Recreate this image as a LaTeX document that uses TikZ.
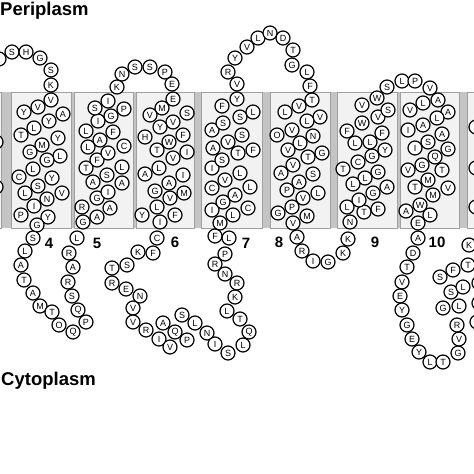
\documentclass[tikz,border=0pt]{standalone}
\usepackage{fontspec}
\setmainfont{Liberation Sans}
\usepackage{tikz}

\definecolor{gapgray}{HTML}{C4C4C4}
\definecolor{boxgray}{HTML}{F2F2F2}
\definecolor{edgegray}{HTML}{A0A0A0}

\tikzset{
  res/.style = {circle, draw, line width = 1.2pt, fill = white, minimum size = 14pt,
                inner sep = 0pt, font = \fontsize{9}{9}\selectfont},
  tmbox/.style = {fill = boxgray, draw = edgegray, line width = 1pt},
  tmnum/.style = {font = \fontsize{15}{15}\selectfont\bfseries},
  side/.style = {font = \fontsize{18.5}{18.5}\selectfont\bfseries, anchor = base west, inner sep = 0pt}
}

\begin{document}
\begin{tikzpicture}[x = 1pt, y = -1pt]
        \useasboundingbox (0,0) rectangle (474,474);
        \clip (0,0) rectangle (474,474);

        % membrane
        \fill [gapgray] (-10,92) rectangle (484,228);
        \draw [tmbox] (-60,92) rectangle (1,228);
        \draw [tmbox] (11,92) rectangle (71,228);
        \draw [tmbox] (74,92) rectangle (133,228);
        \draw [tmbox] (136,92) rectangle (194,228);
        \draw [tmbox] (201,92) rectangle (262,228);
        \draw [tmbox] (270,92) rectangle (330,228);
        \draw [tmbox] (337,92) rectangle (397,228);
        \draw [tmbox] (400,92) rectangle (459,228);
        \draw [tmbox] (467,92) rectangle (540,228);

        \node [side] (peri) at (0,15) {Periplasm};
        \node [side] (cyto) at (1,385) {Cytoplasm};

        % helix numbers
        \node [tmnum] (n4) at (49,243) {4};
        \node [tmnum] (n5) at (97,243) {5};
        \node [tmnum] (n6) at (175,242) {6};
        \node [tmnum] (n7) at (246,243) {7};
        \node [tmnum] (n8) at (279,242) {8};
        \node [tmnum] (n9) at (375,242) {9};
        \node [tmnum] (n10) at (437,242) {10};

        % helix 3 (cut at the left edge)
        \foreach \x/\y/\a [count = \i] in {-4/142/{}, -4/187/{}, -1/59/{}}
            \node [res] (hthree\i) at (\x,\y) {\a};

        % loop 3-4 and helix 4
        \foreach \x/\y/\a [count = \i] in {12/52/S, 26/52/H, 40/58/G, 51/70/S, 51/85/K, 51/100/V,
            38/107/V, 24/112/Y, 49/121/Y, 63/114/A, 34/128/L, 21/135/T, 58/138/Y, 42/145/M,
            30/152/G, 60/156/L, 47/160/G, 33/169/L, 19/177/C, 52/178/Y, 38/186/S, 25/193/L,
            62/193/V, 47/199/N, 34/206/I, 21/215/P, 48/217/Y, 37/225/G}
            \node [res] (hfour\i) at (\x,\y) {\a};

        % loop 4-5
        \foreach \x/\y/\a [count = \i] in {33/238/S, 25/251/L, 21/265/A, 24/280/T, 33/293/A,
            40/306/M, 52/312/T, 59/325/O, 73/332/Q, 86/322/P, 78/310/Q, 72/296/S, 68/282/R,
            73/267/A, 69/253/R, 77/238/L}
            \node [res] (cfour\i) at (\x,\y) {\a};

        % helix 5 and loop 5-6
        \foreach \x/\y/\a [count = \i] in {83/222/G, 97/217/A, 110/208/A, 82/207/R, 97/198/G,
            108/192/I, 122/183/A, 93/182/A, 107/175/S, 86/168/T, 122/167/L, 97/160/F,
            108/153/V, 88/147/L, 124/146/C, 100/140/A, 113/132/F, 86/131/L, 98/121/I,
            111/116/G, 124/109/P, 95/108/S, 108/101/I, 117/87/K,
            122/74/N, 135/67/S, 150/67/S, 165/72/P, 172/84/E, 173/99/E}
            \node [res] (hfive\i) at (\x,\y) {\a};

        % helix 6
        \foreach \x/\y/\a [count = \i] in {162/108/M, 150/115/V, 187/113/S, 173/122/V,
            160/127/Y, 183/135/F, 145/137/H, 169/142/W, 157/150/T, 187/152/I, 173/158/V,
            159/168/L, 145/174/A, 183/175/I, 169/183/A, 155/191/G, 184/193/M, 170/198/V,
            157/207/L, 175/215/F, 142/215/Y, 160/222/I, 157/238/C, 153/253/F, 138/252/K}
            \node [res] (hsix\i) at (\x,\y) {\a};

        % loop 6-7
        \foreach \x/\y/\a [count = \i] in {127/265/S, 112/268/T, 112/283/R, 126/289/E,
            140/296/N, 133/308/V, 133/322/V, 146/330/R, 159/339/I, 170/347/V, 187/340/P,
            175/332/Q, 163/323/A, 182/315/S, 195/323/L, 207/333/N, 215/344/I, 228/353/S,
            243/345/L, 249/332/Q, 240/319/T, 227/311/L, 235/297/K, 237/283/R, 225/274/N,
            215/264/R, 225/254/P, 229/238/L, 215/236/F}
            \node [res] (csix\i) at (\x,\y) {\a};

        % helix 7 and loop 7-8
        \foreach \x/\y/\a [count = \i] in {220/223/M, 233/215/L, 248/208/C, 212/210/I,
            223/202/G, 235/195/A, 250/187/L, 212/188/C, 225/180/V, 240/173/L, 212/168/I,
            222/160/S, 238/153/T, 253/150/F, 213/148/A, 228/142/V, 242/135/S, 212/130/A,
            223/123/S, 240/117/S, 253/112/L, 222/106/F, 237/99/Y,
            237/84/V, 228/72/R, 235/58/Y, 247/47/V, 258/38/L, 270/33/N, 283/38/D,
            293/50/T, 292/65/G, 307/72/L, 310/86/F, 312/100/T}
            \node [res] (hseven\i) at (\x,\y) {\a};

        % helix 8 and loop 8-9
        \foreach \x/\y/\a [count = \i] in {299/106/V, 285/112/L, 320/117/V, 307/121/L,
            292/130/V, 277/135/O, 313/136/N, 300/143/L, 288/150/V, 322/153/G, 308/157/T,
            293/165/V, 281/173/A, 313/174/S, 299/182/A, 287/190/P, 318/193/L, 303/198/V,
            292/207/P, 278/213/G, 307/216/M, 293/223/V,
            297/237/A, 302/251/R, 313/261/I, 328/262/G, 343/253/K, 348/239/K}
            \node [res] (height\i) at (\x,\y) {\a};

        % helix 9 and loop 9-10
        \foreach \x/\y/\a [count = \i] in {350/222/N, 364/212/T, 378/209/F, 347/207/L,
            359/200/I, 373/193/G, 387/187/A, 365/178/L, 353/184/L, 378/172/G, 343/169/T,
            358/162/C, 372/156/G, 385/150/Y, 370/142/L, 355/143/L, 382/133/F, 347/131/F,
            362/123/W, 378/117/V, 388/110/S, 362/105/V, 377/98/W, 387/87/S,
            402/81/L, 415/81/P, 430/88/V}
            \node [res] (hnine\i) at (\x,\y) {\a};

        % helix 10
        \foreach \x/\y/\a [count = \i] in {438/100/A, 423/103/L, 410/110/V, 448/112/A,
            437/118/L, 423/125/A, 408/130/I, 442/134/A, 428/142/S, 415/148/I, 448/149/G,
            435/157/Q, 422/165/G, 408/170/V, 442/170/T, 428/180/M, 415/187/T, 448/188/V,
            433/195/M, 420/205/W, 406/211/A, 430/215/L, 418/223/E}
            \node [res] (hten\i) at (\x,\y) {\a};

        % loop 10-11 and helix 11 (cut at the right edge)
        \foreach \x/\y/\a [count = \i] in {418/238/A, 413/253/D, 407/267/T, 402/282/V,
            400/296/E, 402/310/Y, 407/325/G, 412/339/E, 419/352/Y, 430/362/L, 443/362/T,
            458/353/G, 459/339/V, 457/325/R, 443/308/G, 459/306/L, 451/292/S, 463/287/L,
            440/277/S, 453/270/F, 468/265/T, 469/245/K,
            479/283/{}, 479/303/{}, 477/322/{}, 476/127/{}, 476/168/{}, 476/207/{}}
            \node [res] (cten\i) at (\x,\y) {\a};
    \end{tikzpicture}
\end{document}
